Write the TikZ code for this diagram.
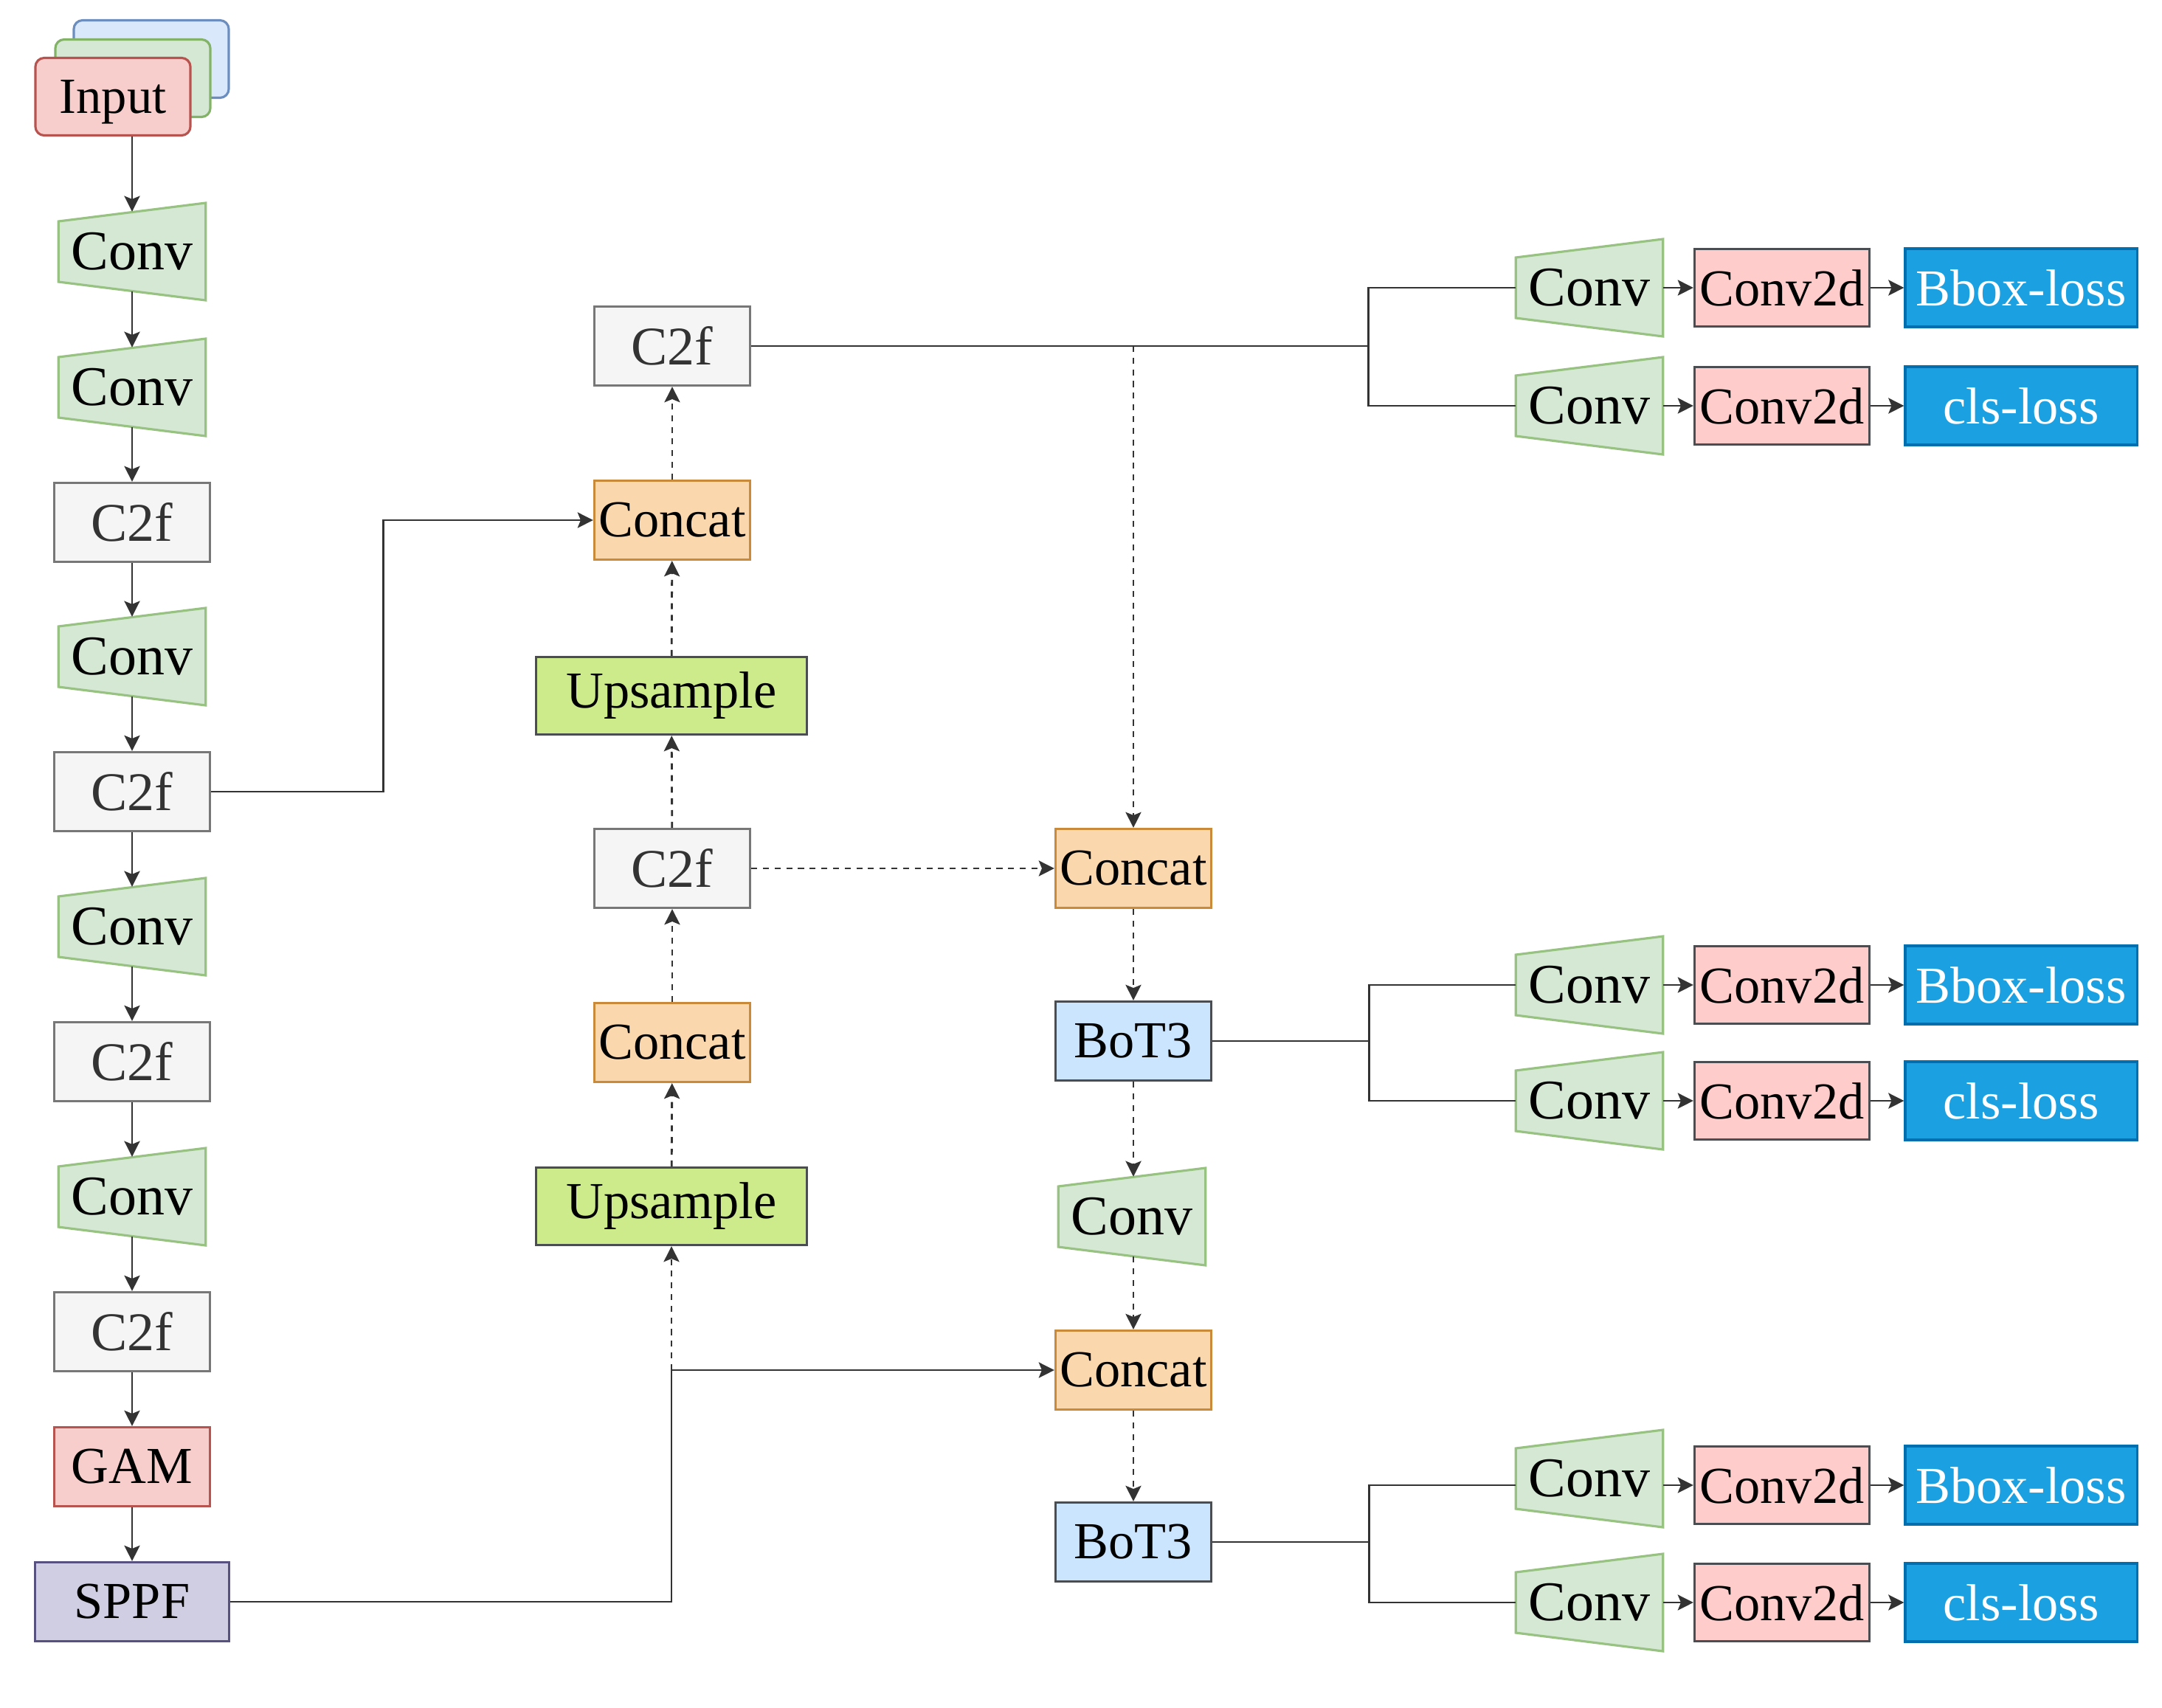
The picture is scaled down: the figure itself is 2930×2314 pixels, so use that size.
\documentclass[tikz,border=0pt]{standalone}
\usepackage{fontspec}
\setmainfont{Liberation Serif}
\usetikzlibrary{arrows.meta, positioning, calc, backgrounds}

\definecolor{redfill}{HTML}{F8CECC}
\definecolor{redline}{HTML}{B85450}
\definecolor{greenfill}{HTML}{D5E8D4}
\definecolor{greenline}{HTML}{82B366}
\definecolor{bluefill}{HTML}{DAE8FC}
\definecolor{blueline}{HTML}{6C8EBF}
\definecolor{convline}{HTML}{98C282}
\definecolor{c2ffill}{HTML}{F5F5F5}
\definecolor{c2fline}{HTML}{777777}
\definecolor{c2ftext}{HTML}{333333}
\definecolor{catfill}{HTML}{FAD7AC}
\definecolor{catline}{HTML}{C98A3A}
\definecolor{upfill}{HTML}{CDEB8B}
\definecolor{botfill}{HTML}{CCE5FF}
\definecolor{darkline}{HTML}{4A4D52}
\definecolor{sppffill}{HTML}{D0CEE2}
\definecolor{sppfline}{HTML}{56517E}
\definecolor{headfill}{HTML}{FFCCCC}
\definecolor{lossfill}{HTML}{1BA1E2}
\definecolor{lossline}{HTML}{006EAF}
\definecolor{linecol}{HTML}{333333}

\begin{document}
\begin{tikzpicture}
  [x=0.01cm, y=-0.01cm,
  % boxes
  box/.style = {rectangle, draw=darkline, line width=0.9pt, inner sep=0pt,
    minimum width=2.11cm, minimum height=1.07cm,
    font=\fontsize{20pt}{24pt}\selectfont},
  c2fbox/.style = {box, fill=c2ffill, draw=c2fline, text=c2ftext,
    font=\fontsize{21pt}{25pt}\selectfont},
  catbox/.style = {box, fill=catfill, draw=catline},
  upbox/.style = {box, fill=upfill, minimum width=3.66cm, minimum height=1.05cm},
  botbox/.style = {box, fill=botfill},
  headbox/.style = {box, fill=headfill, minimum width=2.37cm, minimum height=1.05cm},
  lossbox/.style = {box, fill=lossfill, draw=lossline, text=white,
    minimum width=3.14cm, minimum height=1.06cm},
  % conv (trapezoid drawn behind)
  convbox/.style = {rectangle, inner sep=0pt, minimum width=1.98cm,
    minimum height=1.07cm, font=\fontsize{21.6pt}{26pt}\selectfont},
  trap/.style = {fill=greenfill, draw=convline, line width=0.9pt},
  % input stack
  inbox/.style = {rectangle, rounded corners=0.12cm, line width=0.9pt,
    inner sep=0pt, minimum width=2.1cm, minimum height=1.05cm,
    font=\fontsize{19.5pt}{23pt}\selectfont},
  % lines
  line/.style = {draw=linecol, line width=0.8pt},
  arr/.style = {line, -{Stealth[length=6pt, width=6pt, inset=1.2pt]}},
  dotarr/.style = {arr, dash pattern=on 2.3pt off 2.2pt},
  ]

  \useasboundingbox (0,0) rectangle (2930,2314);

  % backbone
  \node [inbox, fill=bluefill, draw=blueline] (inblue) at (205,80) {};
  \node [inbox, fill=greenfill, draw=greenline] (ingreen) at (180,106) {};
  \node [inbox, fill=redfill, draw=redline, text depth=-2pt] (input) at (153,131) {Input};
  \node [convbox] (cv1) at (179,341) {Conv};
  \node [convbox] (cv2) at (179,525) {Conv};
  \node [c2fbox] (f1) at (179,708) {C2f};
  \node [convbox] (cv3) at (179,890) {Conv};
  \node [c2fbox] (f2) at (179,1073) {C2f};
  \node [convbox] (cv4) at (179,1256) {Conv};
  \node [c2fbox] (f3) at (179,1439) {C2f};
  \node [convbox] (cv5) at (179,1622) {Conv};
  \node [c2fbox] (f4) at (179,1805) {C2f};
  \node [box, fill=redfill, draw=redline] (gam) at (179,1988) {GAM};
  \node [box, fill=sppffill, draw=sppfline, minimum width=2.63cm] (sppf) at (179,2171) {SPPF};

  % neck
  \node [c2fbox] (f5) at (911,469) {C2f};
  \node [catbox] (cat1) at (911,705) {Concat};
  \node [upbox] (up1) at (910,943) {Upsample};
  \node [c2fbox] (f6) at (911,1177) {C2f};
  \node [catbox] (cat2) at (911,1413) {Concat};
  \node [upbox] (up2) at (910,1635) {Upsample};

  \node [catbox] (cat3) at (1536,1177) {Concat};
  \node [botbox] (bot1) at (1536,1411) {BoT3};
  \node [convbox] (cv6) at (1534,1649) {Conv};
  \node [catbox] (cat4) at (1536,1857) {Concat};
  \node [botbox] (bot2) at (1536,2090) {BoT3};

  % heads
  \foreach \y/\dy/\i/\lbl in {390/0/1/Bbox-loss, 550/0/2/cls-loss,
      1335/0/3/Bbox-loss, 1492/0/4/cls-loss,
      2013/-9/5/Bbox-loss, 2172/0/6/cls-loss} {
    \node [convbox] (hc\i) at (2154,{\y+\dy}) {Conv};
    \node [headbox] (hd\i) at (2415,\y) {Conv2d};
    \node [lossbox] (ls\i) at (2739,\y) {\lbl};
    \draw [arr] (hc\i.east |- hd\i.west) -- (hd\i.west);
    \draw [arr] (hd\i) -- (ls\i);
  }

  % trapezoids
  \begin{scope}[on background layer]
    \foreach \n in {cv1,cv2,cv3,cv4,cv5,cv6,hc1,hc2,hc3,hc4,hc5,hc6}
      \draw [trap] ($(\n.west)+(0,-41)$) -- ($(\n.east)+(0,-66)$)
        -- ($(\n.east)+(0,66)$) -- ($(\n.west)+(0,41)$) -- cycle;
  \end{scope}

  % backbone path
  \draw [arr] (input.south -| cv1.north) -- (cv1.north);
  \draw [arr] (cv1) -- (cv2);
  \draw [arr] (cv2) -- (f1);
  \draw [arr] (f1) -- (cv3);
  \draw [arr] (cv3) -- (f2);
  \draw [arr] (f2) -- (cv4);
  \draw [arr] (cv4) -- (f3);
  \draw [arr] (f3) -- (cv5);
  \draw [arr] (cv5) -- (f4);
  \draw [arr] (f4) -- (gam);
  \draw [arr] (gam) -- (sppf);

  % neck path
  \draw [arr] (f2.east) -- ++(233,0) |- (cat1.west);
  \coordinate (split) at (up2.south |- cat4.west);
  \draw [line] (sppf.east) -| (split);
  \draw [arr] (split) -- (cat4.west);
  \draw [dotarr] (split) -- (up2.south);
  \draw [dotarr] (up2) -- (cat2);
  \draw [dotarr] (cat2) -- (f6);
  \draw [dotarr] (f6) -- (up1);
  \draw [dotarr] (up1) -- (cat1);
  \draw [dotarr] (cat1) -- (f5);
  \draw [dotarr] (f6) -- (cat3);
  \draw [dotarr] (f5.east -| cat3.north) -- (cat3.north);
  \draw [dotarr] (cat3) -- (bot1);
  \draw [dotarr] (bot1.south) -- (bot1.south |- cv6.north);
  \draw [dotarr] (bot1.south |- cv6.south) -- (cat4.north);
  \draw [dotarr] (cat4) -- (bot2);

  % to heads
  \draw [line] (f5.east) -- ++(836,0) coordinate (j1);
  \draw [line] (hc1.west |- hd1.west) -| (j1) |- (hc2.west |- hd2.west);
  \draw [line] (bot1.east) -- ++(212,0) coordinate (j2);
  \draw [line] (hc3.west |- hd3.west) -| (j2) |- (hc4.west |- hd4.west);
  \draw [line] (bot2.east) -- ++(212,0) coordinate (j3);
  \draw [line] (hc5.west |- hd5.west) -| (j3) |- (hc6.west |- hd6.west);

\end{tikzpicture}
\end{document}
